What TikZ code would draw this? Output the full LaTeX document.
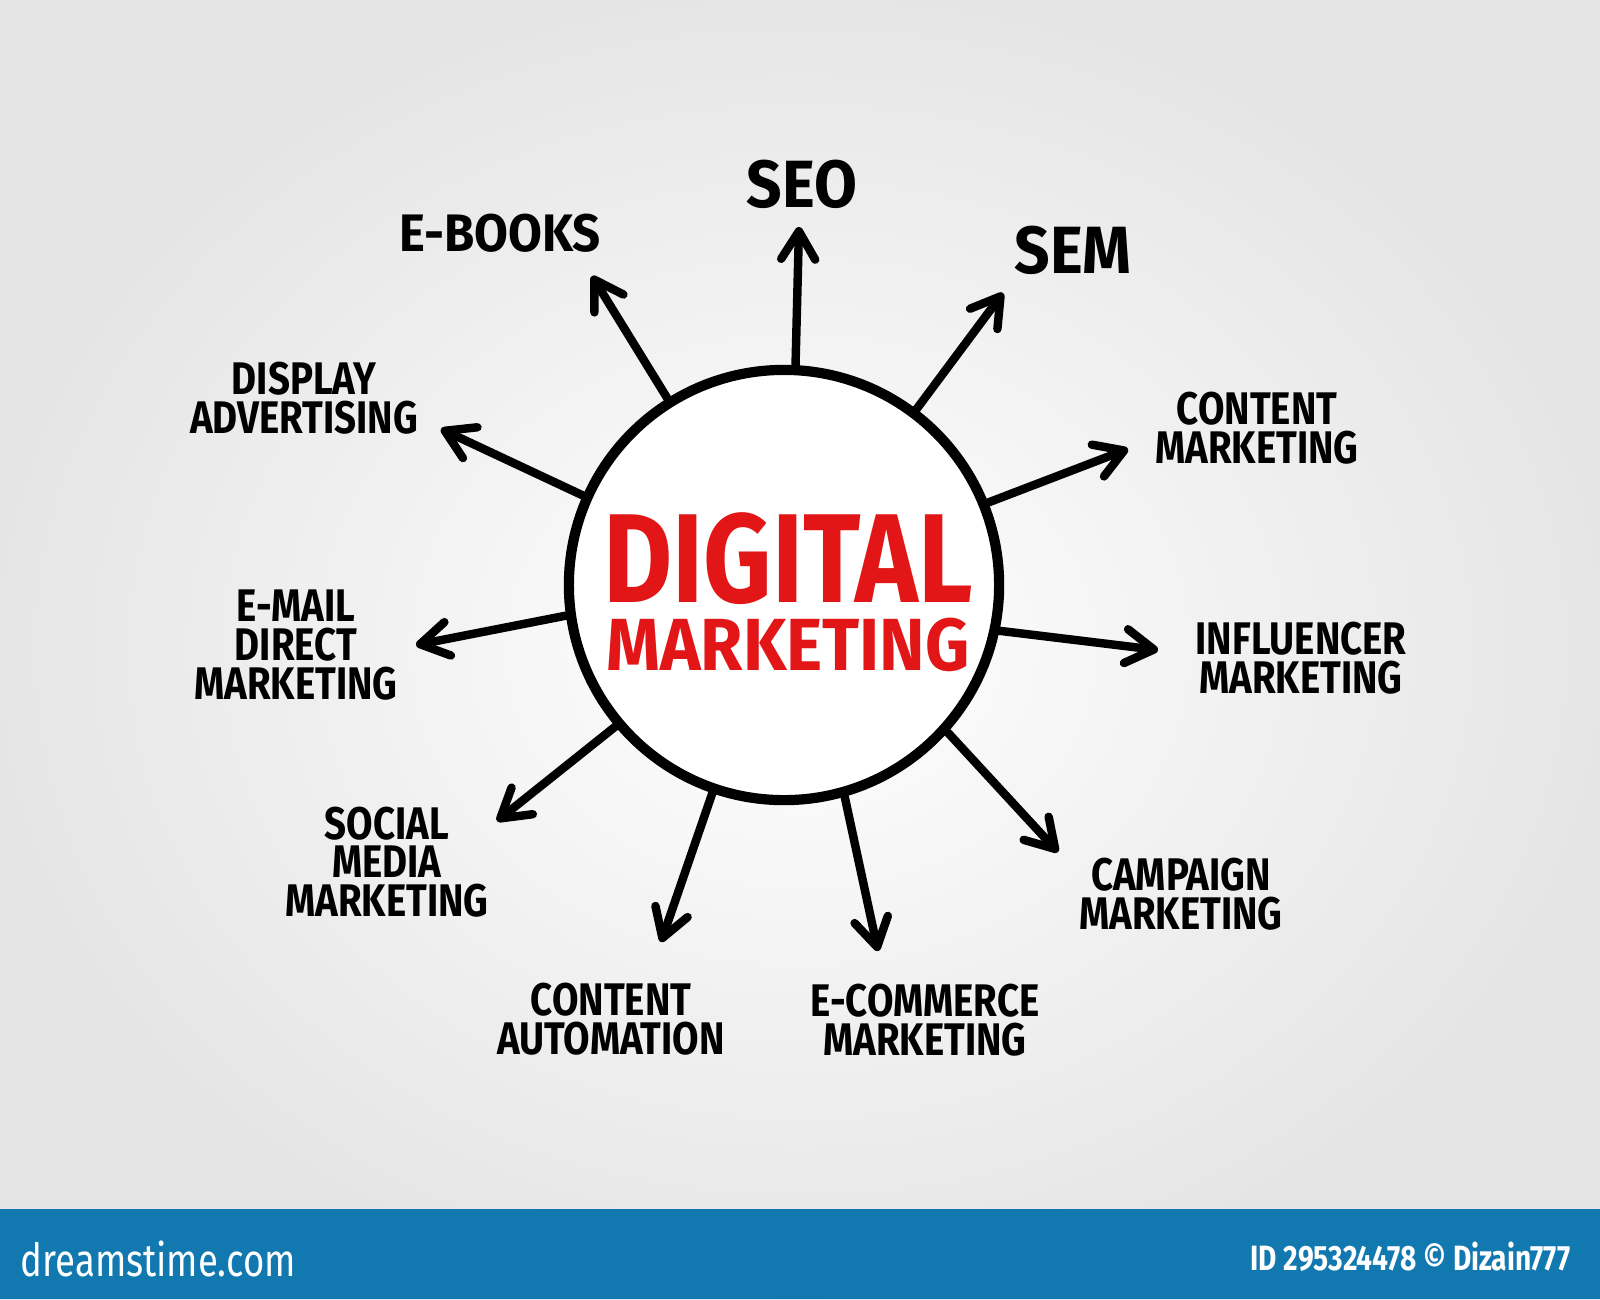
\documentclass[tikz,border=0pt]{standalone}
\usepackage{fontspec}
\usetikzlibrary{arrows.meta}
\newfontfamily\hand{Fira Sans}[FakeStretch=0.84]
\newfontfamily\handwide{Fira Sans}[FakeStretch=0.93]
\newfontfamily\bannerfont{Fira Sans}[FakeStretch=0.8]
\definecolor{dmred}{RGB}{226,22,22}
\definecolor{banner}{RGB}{18,120,176}
\begin{document}
\begin{tikzpicture}[x=0.01cm,y=-0.01cm,
  lbl/.style={font=\hand\bfseries\fontsize{13}{11}\selectfont, align=center, text=black, inner sep=0pt},
  big/.style={font=\handwide\bfseries\fontsize{19}{19}\selectfont, text=black, inner sep=0pt},
  arr/.style={line width=2.4pt, line cap=round, line join=round, -{Straight Barb[length=2.8mm,width=3.4mm,round]}},
  redtxt/.style={text=dmred, inner sep=0pt}
]
\useasboundingbox (0,0) rectangle (1600,1299);
\shade[inner color=white, outer color=black!10] (0,0) rectangle (1600,1299);
\fill[banner] (0,1209) rectangle (1600,1299);

% centre
\node[circle, draw=black, fill=white, line width=2.9pt, minimum size=4.3cm, inner sep=0pt] (c) at (784,585) {};
\node[redtxt, font=\hand\bfseries\fontsize{36}{36}\selectfont] (dig) at (788,559) {DIGITAL};
\node[redtxt, font=\handwide\bfseries\fontsize{21}{21}\selectfont] (mkt) at (788,645) {MARKETING};

% tips
\coordinate (t1) at (799,227);
\coordinate (t2) at (1003,293);
\coordinate (t3) at (1128,449);
\coordinate (t4) at (1158,650);
\coordinate (t5) at (1058,852);
\coordinate (t6) at (878,951);
\coordinate (t7) at (661,942);
\coordinate (t8) at (497,821);
\coordinate (t9) at (416,645);
\coordinate (t10) at (441,429);
\coordinate (t11) at (592,276);

\draw[arr] (c.87) -- (t1);
\draw[arr] (c.53.5) -- (t2);
\draw[arr] (c.22.2) -- (t3);
\draw[arr] (c.-12.6) -- (t4);
\draw[arr] (c.-42) -- (t5);
\draw[arr] (c.-74.6) -- (t6);
\draw[arr] (c.-109.6) -- (t7);
\draw[arr] (c.220.7) -- (t8);
\draw[arr] (c.188.6) -- (t9);
\draw[arr] (c.156.8) -- (t10);
\draw[arr] (c.122.9) -- (t11);

% labels
\node[big] (seo) at (802,184) {SEO};
\node[big] (sem) at (1073,250) {SEM};
\node[lbl, font=\handwide\bfseries\fontsize{15}{15}\selectfont] (ebk) at (500,233) {E-BOOKS};
\node[lbl] (dis) at (304,398) {DISPLAY\\ADVERTISING};
\node[lbl] (cnt) at (1257,428) {CONTENT\\MARKETING};
\node[lbl] (inf) at (1301,658) {INFLUENCER\\MARKETING};
\node[lbl] (eml) at (296,645) {E-MAIL\\DIRECT\\MARKETING};
\node[lbl] (soc) at (387,862) {SOCIAL\\MEDIA\\MARKETING};
\node[lbl] (cmp) at (1181,894) {CAMPAIGN\\MARKETING};
\node[lbl] (cau) at (611,1019) {CONTENT\\AUTOMATION};
\node[lbl] (eco) at (925,1020) {E-COMMERCE\\MARKETING};

% banner text
\node[anchor=west, text=white, inner sep=0pt, font=\bannerfont\fontsize{13}{13}\selectfont] (ds) at (20,1259) {dreamstime.com};
\node[anchor=east, text=white, inner sep=0pt, font=\bannerfont\bfseries\fontsize{10}{10}\selectfont] (id) at (1571,1257) {ID 295324478 © Dizain777};
\end{tikzpicture}
\end{document}
